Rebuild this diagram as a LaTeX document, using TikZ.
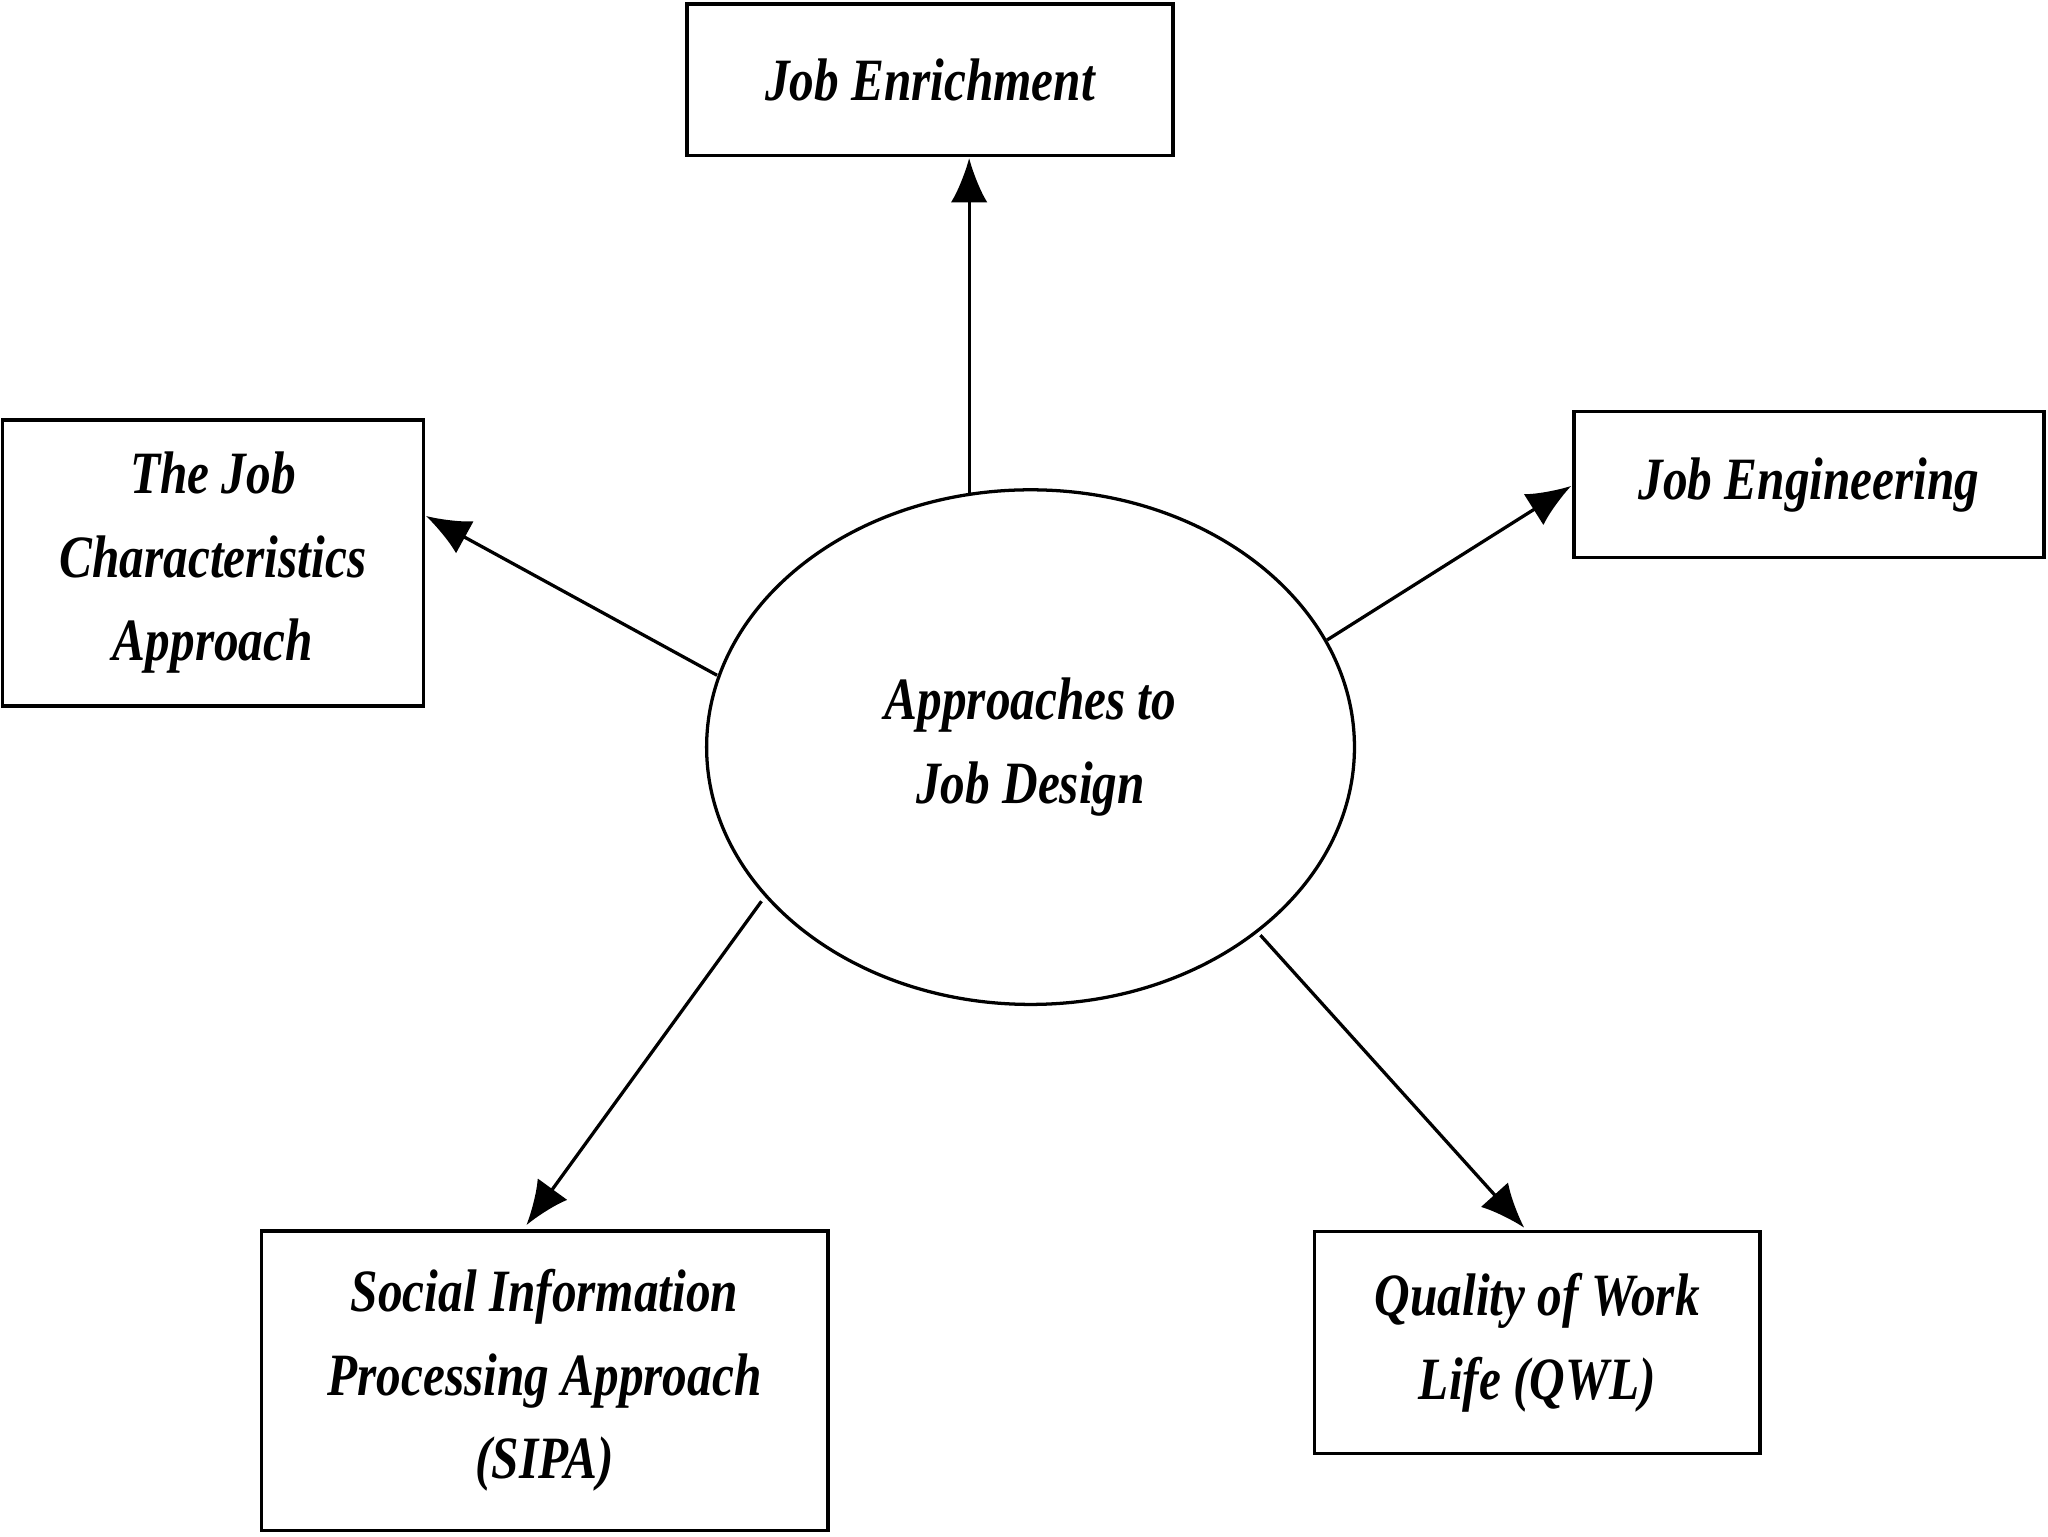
\documentclass[tikz,border=0pt]{standalone}
\usepackage{fontspec}
\setmainfont{Liberation Serif}[FakeStretch=0.82]
\usetikzlibrary{arrows.meta,shapes.geometric}
\begin{document}
\begin{tikzpicture}[x=1pt,y=-1pt,
  box/.style={draw,line width=2.5pt,inner sep=0pt,align=center,font=\fontsize{46}{64}\selectfont\bfseries\itshape},
  arr/.style={line width=2.5pt,-{Latex[length=34pt,width=28pt]}}]
\useasboundingbox (0,0) rectangle (1568,1176);
\node[box,minimum width=372pt,minimum height=116pt] (en) at (712,61) {Job Enrichment};
\node[box,minimum width=322pt,minimum height=219pt] (ch) at (163,431) {The Job\\Characteristics\\Approach};
\node[box,minimum width=360pt,minimum height=112pt] (eg) at (1385,371) {Job Engineering};
\node[box,minimum width=434pt,minimum height=229pt] (si) at (417,1057) {Social Information\\Processing Approach\\(SIPA)};
\node[box,minimum width=341pt,minimum height=170pt] (q) at (1177,1028) {Quality of Work\\Life (QWL)};
\node[ellipse,draw,line width=2.5pt,minimum width=496pt,minimum height=394pt,align=center,font=\fontsize{46}{64}\selectfont\bfseries\itshape] (c) at (789,572) {Approaches to\\Job Design};
\coordinate (a1) at (742,380); \coordinate (b1) at (742,121);
\coordinate (a2) at (549,517); \coordinate (b2) at (326,395);
\coordinate (a3) at (1016,490); \coordinate (b3) at (1203,372);
\coordinate (a4) at (583,690); \coordinate (b4) at (403,938);
\coordinate (a5) at (965,716); \coordinate (b5) at (1167,940);
\draw[arr] (a1) -- (b1);
\draw[arr] (a2) -- (b2);
\draw[arr] (a3) -- (b3);
\draw[arr] (a4) -- (b4);
\draw[arr] (a5) -- (b5);
\end{tikzpicture}
\end{document}
